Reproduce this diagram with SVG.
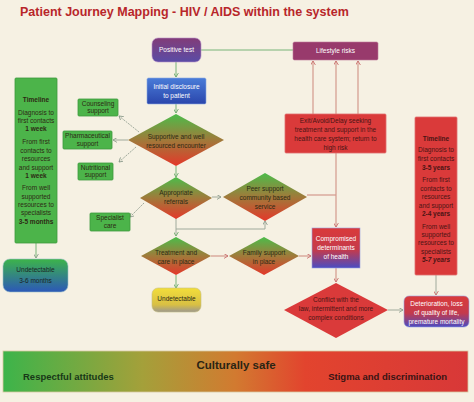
<svg xmlns="http://www.w3.org/2000/svg" width="474" height="402" viewBox="0 0 474 402">
<defs>
<linearGradient id="gPurple" x1="0" y1="0" x2="0" y2="1"><stop offset="0" stop-color="#823c78"/><stop offset="1" stop-color="#5a4ca6"/></linearGradient>
<linearGradient id="gBlue" x1="0" y1="0" x2="0" y2="1"><stop offset="0" stop-color="#4a7cd8"/><stop offset="1" stop-color="#2a46ac"/></linearGradient>
<linearGradient id="gDia" x1="0" y1="0" x2="0" y2="1"><stop offset="0" stop-color="#4cbc4a"/><stop offset="0.5" stop-color="#a07a3a"/><stop offset="1" stop-color="#e4382a"/></linearGradient>
<linearGradient id="gRB" x1="0" y1="0" x2="0" y2="1"><stop offset="0" stop-color="#da3a3a"/><stop offset="0.55" stop-color="#c43a4c"/><stop offset="1" stop-color="#4a4cc2"/></linearGradient>
<linearGradient id="gGB" x1="0" y1="0" x2="0" y2="1"><stop offset="0" stop-color="#3cb44a"/><stop offset="1" stop-color="#2c58b8"/></linearGradient>
<linearGradient id="gYel" x1="0" y1="0" x2="0" y2="1"><stop offset="0" stop-color="#f2de3a"/><stop offset="0.7" stop-color="#d8bf44"/><stop offset="1" stop-color="#9c9890"/></linearGradient>
<linearGradient id="gBar" x1="0" y1="0" x2="1" y2="0"><stop offset="0" stop-color="#3cb44a"/><stop offset="0.3" stop-color="#a4a03a"/><stop offset="0.5" stop-color="#d27a30"/><stop offset="0.65" stop-color="#e2442e"/><stop offset="1" stop-color="#d83838"/></linearGradient>
<marker id="aG" viewBox="0 0 6 6" refX="5" refY="3" markerWidth="5" markerHeight="5" markerUnits="userSpaceOnUse" orient="auto"><path d="M0,0 L5,3 L0,6" fill="none" stroke="#6aa86a" stroke-width="1"/></marker>
<marker id="aR" viewBox="0 0 6 6" refX="5" refY="3" markerWidth="5" markerHeight="5" markerUnits="userSpaceOnUse" orient="auto"><path d="M0,0 L5,3 L0,6" fill="none" stroke="#c86a6a" stroke-width="1"/></marker>
<marker id="aK" viewBox="0 0 6 6" refX="5" refY="3" markerWidth="5" markerHeight="5" markerUnits="userSpaceOnUse" orient="auto"><path d="M0,0 L5,3 L0,6" fill="none" stroke="#8a9a8a" stroke-width="1"/></marker>
<style>
text{font-family:"Liberation Sans",Arial,sans-serif;font-size:6.5px;text-anchor:middle;dominant-baseline:middle}
.w{fill:#ffffff}
.d{fill:#2c2a14}
.r{fill:#4a1414}
.b{font-weight:bold}
.lg{stroke:#78b478;stroke-width:1;fill:none}
.lr{stroke:#d49a8c;stroke-width:1.2;fill:none}
.lk{stroke:#a0aa9c;stroke-width:1;fill:none}
.green{fill:#4cb44a;stroke:#3e9a3e;stroke-width:0.8}
.red{fill:#da3a3a;stroke:#e07070;stroke-width:0.8}
</style>
</defs>
<rect width="474" height="402" fill="#f6f1e3"/>
<text x="20" y="13" style="font-size:12.5px;font-weight:bold;text-anchor:start;fill:#b8262a">Patient Journey Mapping - HIV / AIDS within the system</text>

<g id="connectors">
<line class="lg" x1="201" y1="50" x2="293" y2="50"/>
<line class="lg" x1="176" y1="62" x2="176" y2="77" marker-end="url(#aG)"/>
<line class="lg" x1="176" y1="104" x2="176" y2="113" marker-end="url(#aG)"/>
<line class="lk" x1="139" y1="132" x2="119" y2="116" marker-end="url(#aK)" stroke-dasharray="2,1"/>
<line class="lk" x1="128" y1="140" x2="113" y2="140" marker-end="url(#aK)"/>
<line class="lk" x1="136" y1="147" x2="119" y2="162" marker-end="url(#aK)" stroke-dasharray="2,1"/>
<line class="lg" x1="176" y1="166" x2="176" y2="177" marker-end="url(#aG)"/>
<line class="lk" x1="144" y1="203" x2="130" y2="217" marker-end="url(#aK)" stroke-dasharray="2,1"/>
<line class="lk" x1="212" y1="197" x2="221" y2="197" marker-end="url(#aK)"/>
<line class="lk" x1="176" y1="218" x2="176" y2="236" marker-end="url(#aG)"/>
<polyline class="lk" points="176,229 265,229 265,221" marker-end="url(#aK)"/>
<line class="lr" x1="211" y1="256" x2="228" y2="256" marker-end="url(#aR)"/>
<line class="lr" x1="299" y1="256" x2="311" y2="256" marker-end="url(#aR)"/>
<line class="lg" x1="176" y1="275" x2="176" y2="288" marker-end="url(#aG)"/>
<line class="lg" x1="36" y1="243" x2="36" y2="258" marker-end="url(#aK)"/>
<line class="lr" x1="313" y1="114" x2="313" y2="61" marker-end="url(#aR)"/>
<line class="lr" x1="336" y1="114" x2="336" y2="61" marker-end="url(#aR)"/>
<line class="lr" x1="358" y1="114" x2="358" y2="61" marker-end="url(#aR)"/>
<line class="lr" x1="336" y1="153" x2="336" y2="227" marker-end="url(#aR)"/>
<line class="lr" x1="307" y1="195" x2="336" y2="195"/>
<line class="lr" x1="336" y1="268" x2="336" y2="282" marker-end="url(#aR)"/>
<line class="lk" x1="388" y1="310" x2="403" y2="310" marker-end="url(#aK)"/>
<line class="lk" x1="436" y1="275" x2="436" y2="295" marker-end="url(#aR)"/>
</g>

<g id="positive-test">
<rect x="152" y="38" width="49" height="24" rx="6" fill="url(#gPurple)" stroke="#b890c8" stroke-width="0.6"/>
<text class="w" x="176.5" y="50.5">Positive test</text>
</g>
<g id="lifestyle-risks">
<rect x="293" y="42" width="85" height="18" rx="1.5" fill="#983a6c" stroke="#c07a9a" stroke-width="0.6"/>
<text class="w" x="335.5" y="51.5">Lifestyle risks</text>
</g>
<g id="initial-disclosure">
<rect x="147" y="78" width="59" height="26" rx="1.5" fill="url(#gBlue)" stroke="#8aa8e0" stroke-width="0.6"/>
<text class="w" x="176.5" y="87.5">Initial disclosure</text>
<text class="w" x="176.5" y="96.5">to patient</text>
</g>
<g id="supportive-encounter">
<polygon points="176,114 224,140 176,166 128,140" fill="url(#gDia)"/>
<text class="d" x="176" y="137">Supportive and well</text>
<text class="d" x="176" y="146">resourced encounter</text>
</g>
<g id="counseling">
<rect class="green" x="78" y="99" width="40" height="17" rx="1"/>
<text class="d" x="98" y="104">Counseling</text>
<text class="d" x="98" y="111.5">support</text>
</g>
<g id="pharmaceutical">
<rect class="green" x="63" y="131" width="49" height="18" rx="1"/>
<text class="d" x="87.5" y="136.5">Pharmaceutical</text>
<text class="d" x="87.5" y="144">support</text>
</g>
<g id="nutritional">
<rect class="green" x="78" y="163" width="35" height="17" rx="1"/>
<text class="d" x="95.5" y="168">Nutritional</text>
<text class="d" x="95.5" y="175.5">support</text>
</g>
<g id="specialist-care">
<rect class="green" x="90" y="213" width="40" height="18" rx="1"/>
<text class="d" x="110" y="218.5">Specialist</text>
<text class="d" x="110" y="226">care</text>
</g>
<g id="timeline-left">
<rect class="green" x="15" y="78" width="42" height="165" rx="1"/>
<text class="d b" x="36" y="100">Timeline</text>
<text class="d" x="36" y="113">Diagnosis to</text>
<text class="d" x="36" y="121">first contacts</text>
<text class="d b" x="36" y="129.5">1 week</text>
<text class="d" x="36" y="142.5">From first</text>
<text class="d" x="36" y="151">contacts to</text>
<text class="d" x="36" y="159.5">resources</text>
<text class="d" x="36" y="168">and support</text>
<text class="d b" x="36" y="176.5">1 week</text>
<text class="d" x="36" y="188.5">From well</text>
<text class="d" x="36" y="197">supported</text>
<text class="d" x="36" y="205">resources to</text>
<text class="d" x="36" y="213.5">specialists</text>
<text class="d b" x="36" y="222">3-5 months</text>
</g>
<g id="undetectable-months">
<rect x="3" y="259" width="65" height="33" rx="7" fill="url(#gGB)" stroke="#9ac0c8" stroke-width="0.6"/>
<text class="d" x="35.5" y="270.5" style="fill:#1a2424">Undetectable</text>
<text class="d" x="35.5" y="281" style="fill:#1a2424">3-6 months</text>
</g>
<g id="appropriate-referrals">
<polygon points="176,177 212,198 176,219 140,198" fill="url(#gDia)"/>
<text class="d" x="176" y="193.5">Appropriate</text>
<text class="d" x="176" y="202.5">referrals</text>
</g>
<g id="peer-support">
<polygon points="265,173 307,197 265,221 223,197" fill="url(#gDia)"/>
<text class="d" x="265" y="189">Peer support</text>
<text class="d" x="265" y="198">community based</text>
<text class="d" x="265" y="207">service</text>
</g>
<g id="treatment-care">
<polygon points="176,237 211,256 176,275 141,256" fill="url(#gDia)"/>
<text class="d" x="176" y="253">Treatment and</text>
<text class="d" x="176" y="262">care in place</text>
</g>
<g id="family-support">
<polygon points="264,237 299,256 264,275 229,256" fill="url(#gDia)"/>
<text class="d" x="264" y="253.5">Family support</text>
<text class="d" x="264" y="262.5">in place</text>
</g>
<g id="undetectable">
<rect x="152" y="288" width="49" height="24" rx="6" fill="url(#gYel)" stroke="#c8c080" stroke-width="0.6"/>
<text class="d" x="176.5" y="299.5">Undetectable</text>
</g>
<g id="exit-avoid">
<rect class="red" x="285" y="114" width="101" height="39" rx="1"/>
<text class="r" x="335.5" y="121.5">Exit/Avoid/Delay seeking</text>
<text class="r" x="335.5" y="130.5">treatment and support in the</text>
<text class="r" x="335.5" y="139.5">health care system; return to</text>
<text class="r" x="335.5" y="148.5">high risk</text>
</g>
<g id="compromised">
<rect x="312" y="228" width="48" height="40" fill="url(#gRB)" stroke="#9aa0e0" stroke-width="0.6"/>
<text class="w" x="336" y="239.5">Compromised</text>
<text class="w" x="336" y="248.5">determinants</text>
<text class="w" x="336" y="257.5">of health</text>
</g>
<g id="conflict">
<polygon points="336,283 388,310 336,338 284,310" fill="#da3a3a"/>
<text class="r" x="336" y="300">Conflict with the</text>
<text class="r" x="336" y="309">law, intermittent and more</text>
<text class="r" x="336" y="318">complex conditions</text>
</g>
<g id="timeline-right">
<rect class="red" x="415" y="117" width="42" height="158" rx="1"/>
<text class="r b" x="436" y="139">Timeline</text>
<text class="r" x="436" y="150.5">Diagnosis to</text>
<text class="r" x="436" y="159">first contacts</text>
<text class="r b" x="436" y="168">3-5 years</text>
<text class="r" x="436" y="180">From first</text>
<text class="r" x="436" y="189">contacts to</text>
<text class="r" x="436" y="197.5">resources</text>
<text class="r" x="436" y="206">and support</text>
<text class="r b" x="436" y="214.5">2-4 years</text>
<text class="r" x="436" y="227">From well</text>
<text class="r" x="436" y="235.5">supported</text>
<text class="r" x="436" y="243.5">resources to</text>
<text class="r" x="436" y="252">specialists</text>
<text class="r b" x="436" y="260.5" style="font-style:italic">5-7 years</text>
</g>
<g id="deterioration">
<rect x="404" y="296" width="65" height="31" rx="5" fill="url(#gRB)" stroke="#9aa0e0" stroke-width="0.6"/>
<text class="w" x="436.5" y="304">Deterioration, loss</text>
<text class="w" x="436.5" y="313">of quality of life,</text>
<text class="w" x="436.5" y="322">premature mortality</text>
</g>
<g id="culture-bar">
<rect x="3" y="351" width="465" height="41" fill="url(#gBar)" stroke="#d8c8a0" stroke-width="0.8"/>
<text x="236" y="366" style="font-size:11.5px;font-weight:bold;fill:#2a2414">Culturally safe</text>
<text x="23" y="377" style="font-size:9.5px;font-weight:bold;fill:#183818;text-anchor:start">Respectful attitudes</text>
<text x="447" y="377" style="font-size:9.5px;font-weight:bold;fill:#3a1414;text-anchor:end">Stigma and discrimination</text>
</g>
</svg>
